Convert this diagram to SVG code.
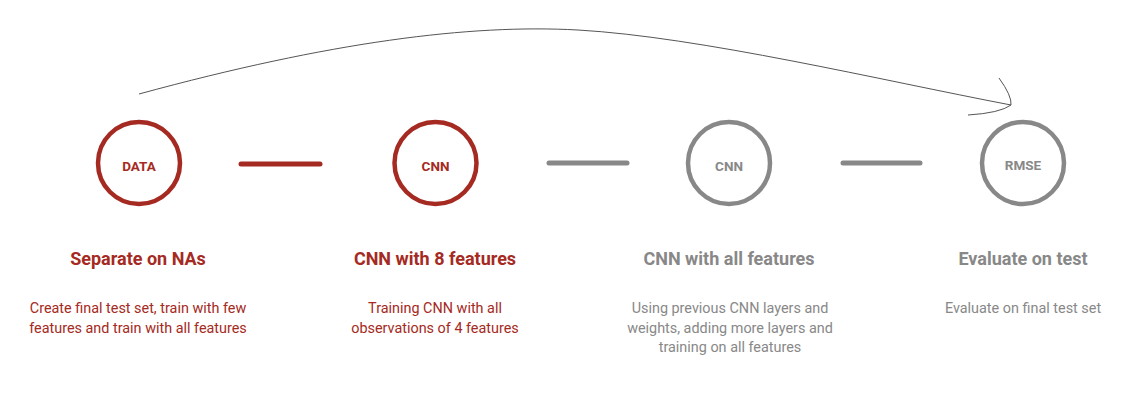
<svg xmlns="http://www.w3.org/2000/svg" width="1148" height="401" viewBox="0 0 1148 401">
<style>
.bg{fill:#ffffff}
.red{stroke:#a52a22}
.grey{stroke:#888888}
.ring{fill:none;stroke-width:4.5}
.bar{stroke-width:5;stroke-linecap:round}
text{font-family:Roboto,"Liberation Sans",sans-serif;text-anchor:middle}
.lbl{font-size:13.5px;font-weight:bold}
.ttl{font-size:18px;font-weight:bold}
.body{font-size:14.4px}
.tr{fill:#a52a22}
.tg{fill:#888888}
.arc{fill:none;stroke:#555555;stroke-width:1}
</style>
<rect class="bg" x="0" y="0" width="1148" height="401"/>
<g id="connectors">
<line class="bar red" x1="241" y1="164" x2="320" y2="164"/>
<line class="bar grey" x1="549" y1="163" x2="627" y2="163"/>
<line class="bar grey" x1="843" y1="163" x2="920" y2="163"/>
<path class="arc" d="M139,94 C330,42 470,24 578,30 C700,37 880,80 1011,105"/>
<path class="arc" d="M999,78 Q1012,96 1011,105 Q1000,113 968,115"/>
</g>
<g id="node-data">
<circle class="ring red" cx="139" cy="163" r="41"/>
<text class="lbl tr" x="139" y="170.5">DATA</text>
<text class="ttl tr" x="138" y="265">Separate on NAs</text>
<text class="body tr" x="138" y="313">Create final test set, train with few</text>
<text class="body tr" x="138" y="333">features and train with all features</text>
</g>
<g id="node-cnn8">
<circle class="ring red" cx="435.5" cy="163" r="41"/>
<text class="lbl tr" x="435.5" y="171">CNN</text>
<text class="ttl tr" x="435" y="265">CNN with 8 features</text>
<text class="body tr" x="435" y="313">Training CNN with all</text>
<text class="body tr" x="435" y="333">observations of 4 features</text>
</g>
<g id="node-cnnall">
<circle class="ring grey" cx="729" cy="163" r="41"/>
<text class="lbl tg" x="729" y="171">CNN</text>
<text class="ttl tg" x="729" y="265">CNN with all features</text>
<text class="body tg" x="730" y="313">Using previous CNN layers and</text>
<text class="body tg" x="730" y="333">weights, adding more layers and</text>
<text class="body tg" x="730" y="352">training on all features</text>
</g>
<g id="node-rmse">
<circle class="ring grey" cx="1023" cy="163" r="41"/>
<text class="lbl tg" x="1023" y="170">RMSE</text>
<text class="ttl tg" x="1023" y="265">Evaluate on test</text>
<text class="body tg" x="1023" y="313">Evaluate on final test set</text>
</g>
</svg>
